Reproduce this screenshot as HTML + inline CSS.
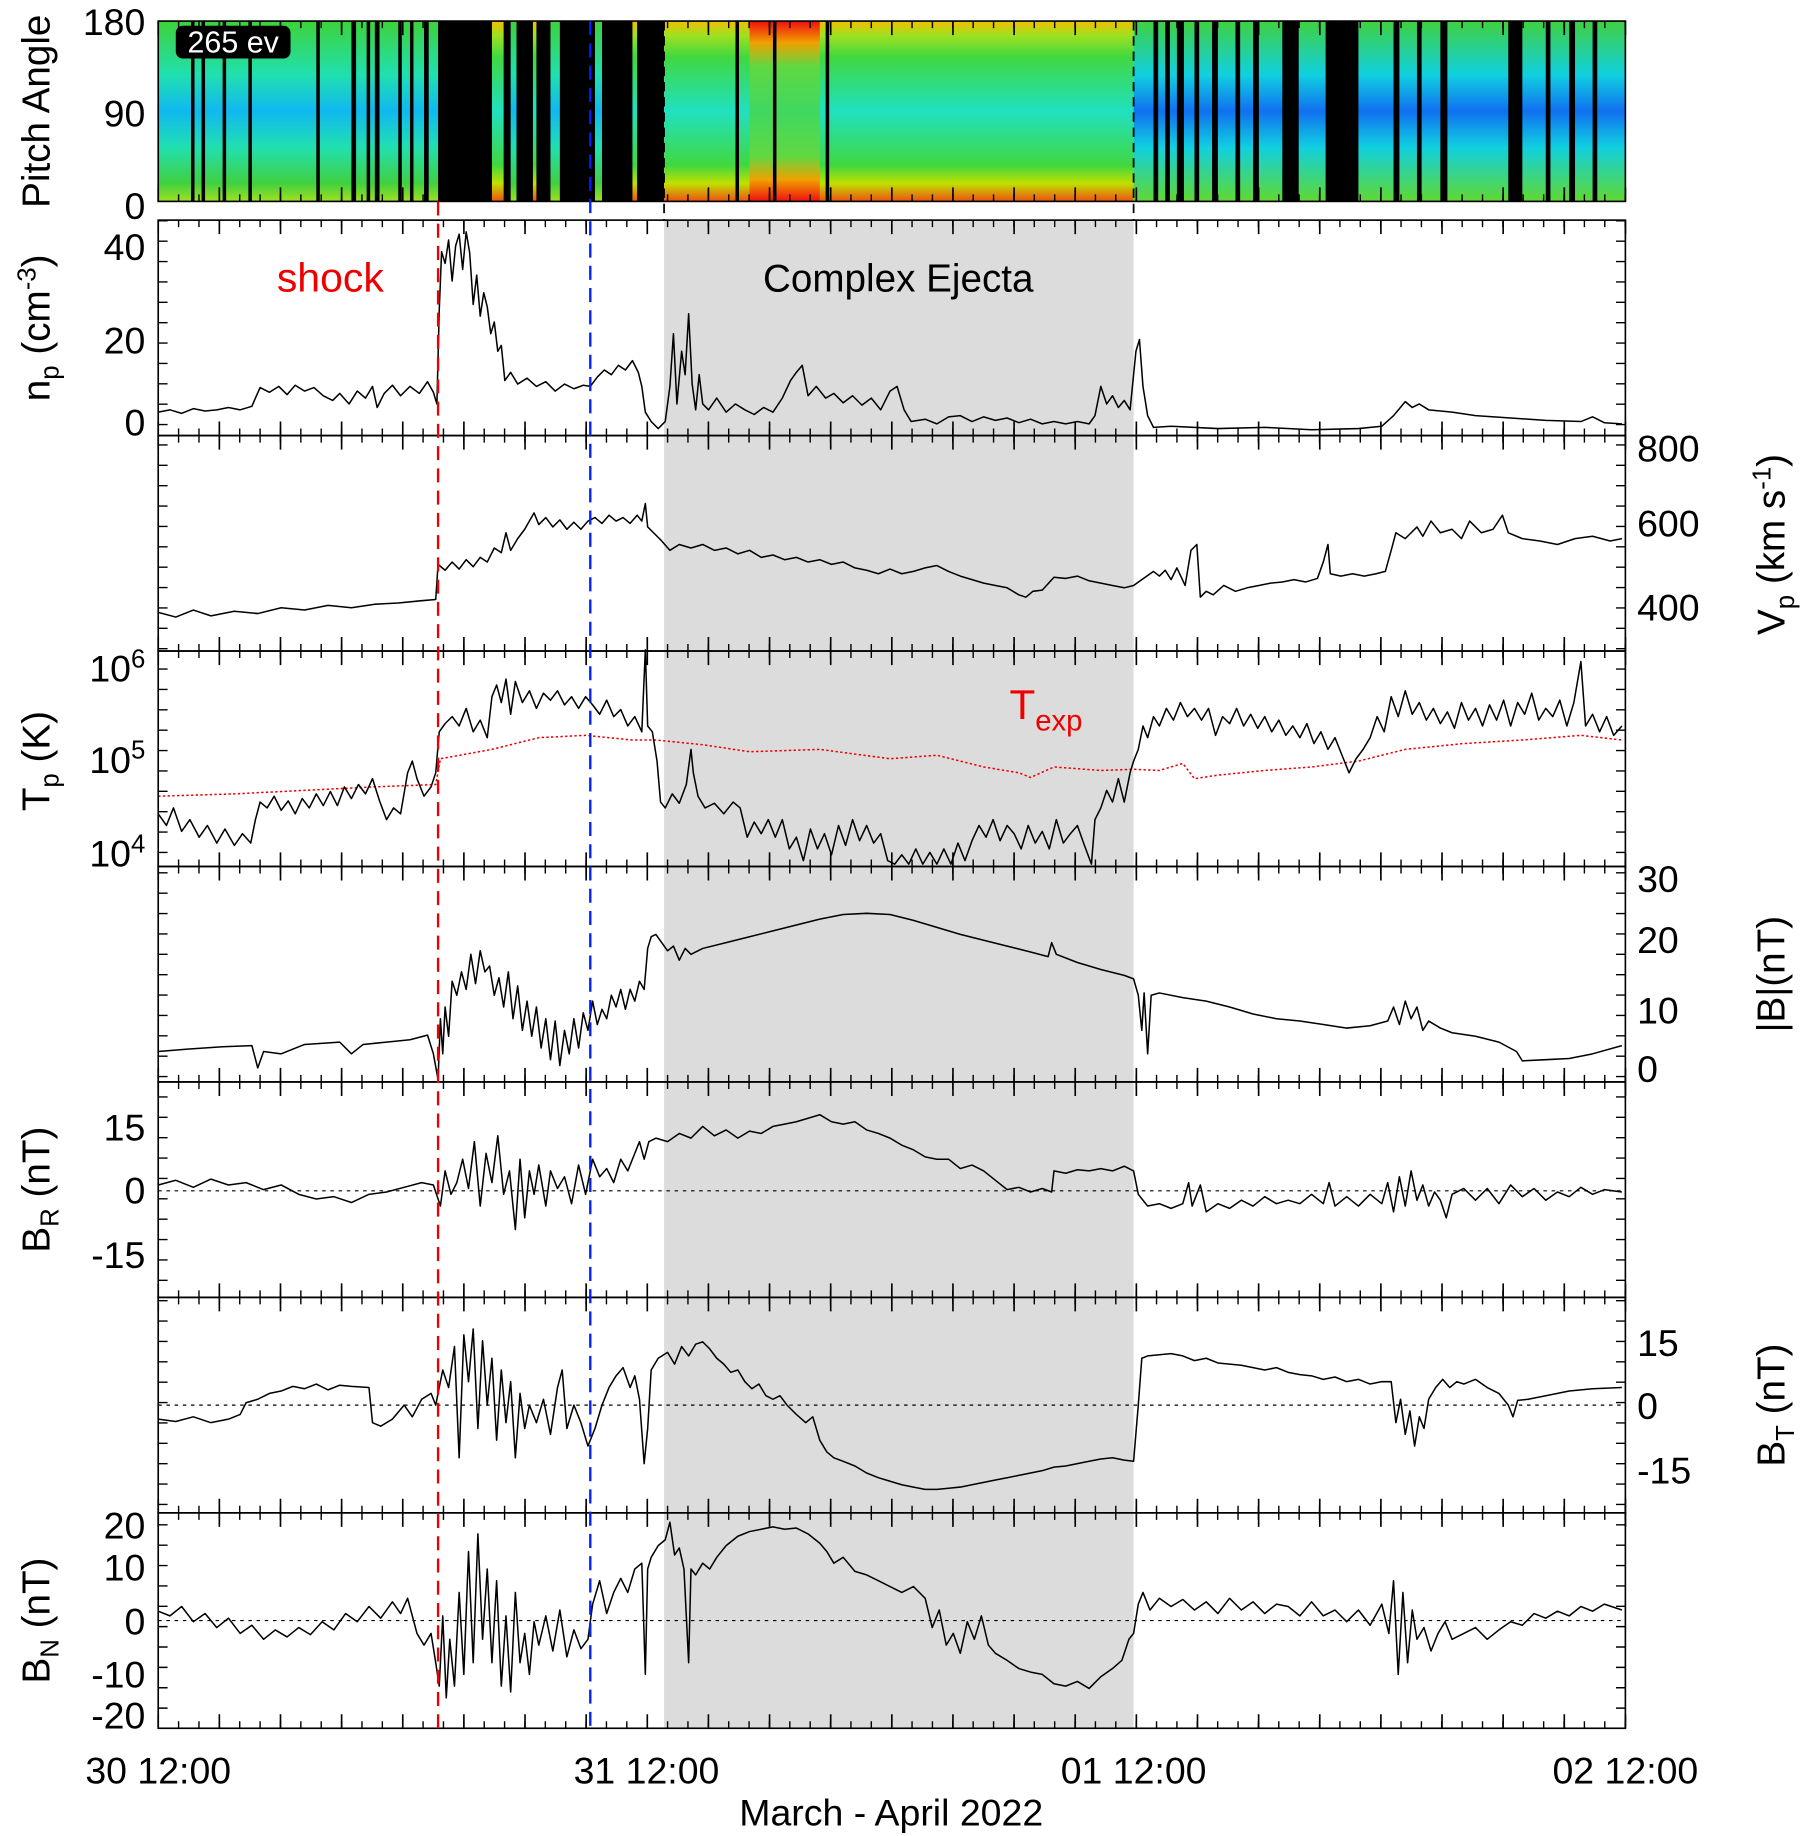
<!DOCTYPE html>
<html><head><meta charset="utf-8"><style>
html,body{margin:0;padding:0;background:#fff}
svg{display:block}
text{font-family:"Liberation Sans",sans-serif;fill:#000}
</style></head><body>
<svg width="1800" height="1836" viewBox="0 0 1537 1568" xmlns="http://www.w3.org/2000/svg">
<defs>
<linearGradient id="gA" x1="0" y1="0" x2="0" y2="1">
<stop offset="0" stop-color="#3ed23a"/><stop offset="0.3" stop-color="#20e0b0"/><stop offset="0.5" stop-color="#10b8f0"/><stop offset="0.7" stop-color="#20e0b0"/><stop offset="0.9" stop-color="#40d040"/><stop offset="1" stop-color="#a0e020"/></linearGradient>
<linearGradient id="gB" x1="0" y1="0" x2="0" y2="1">
<stop offset="0" stop-color="#f0c000"/><stop offset="0.08" stop-color="#a0e020"/><stop offset="0.2" stop-color="#40d840"/><stop offset="0.5" stop-color="#20e0c0"/><stop offset="0.8" stop-color="#40d840"/><stop offset="0.9" stop-color="#c0e000"/><stop offset="1" stop-color="#f05010"/></linearGradient>
<linearGradient id="gR" x1="0" y1="0" x2="0" y2="1">
<stop offset="0" stop-color="#f01010"/><stop offset="0.12" stop-color="#f0a000"/><stop offset="0.25" stop-color="#60d840"/><stop offset="0.5" stop-color="#40d860"/><stop offset="0.75" stop-color="#60d840"/><stop offset="0.88" stop-color="#f0a000"/><stop offset="1" stop-color="#f01010"/></linearGradient>
<linearGradient id="gC" x1="0" y1="0" x2="0" y2="1">
<stop offset="0" stop-color="#40d040"/><stop offset="0.3" stop-color="#10d0e0"/><stop offset="0.5" stop-color="#1070f0"/><stop offset="0.7" stop-color="#10d0e0"/><stop offset="1" stop-color="#60d830"/></linearGradient>
</defs>
<rect width="1537" height="1568" fill="#fff"/>
<rect x="567" y="188" width="401" height="1288" fill="#dcdcdc"/>
<!-- heatmap -->
<rect x="135" y="18" width="239" height="154" fill="url(#gA)"/>
<rect x="374" y="18" width="193" height="154" fill="#000"/>
<rect x="567" y="18" width="401" height="154" fill="url(#gB)"/>
<rect x="640" y="18" width="60" height="154" fill="url(#gR)"/>
<rect x="968" y="18" width="420" height="154" fill="url(#gC)"/>
<rect x="420" y="18" width="10" height="154" fill="url(#gB)"/>
<rect x="436" y="18" width="5" height="154" fill="url(#gA)"/>
<rect x="455" y="18" width="3" height="154" fill="url(#gB)"/>
<rect x="470" y="18" width="8" height="154" fill="url(#gA)"/>
<rect x="508" y="18" width="6" height="154" fill="url(#gA)"/>
<rect x="540" y="18" width="4" height="154" fill="url(#gB)"/>
<g fill="#000">
<rect x="163" y="18" width="3" height="154"/><rect x="172" y="18" width="3" height="154"/><rect x="190" y="18" width="3" height="154"/><rect x="212" y="18" width="3" height="154"/><rect x="270" y="18" width="3" height="154"/><rect x="300" y="18" width="4" height="154"/><rect x="313" y="18" width="3" height="154"/><rect x="320" y="18" width="4" height="154"/><rect x="340" y="18" width="3" height="154"/><rect x="350" y="18" width="3" height="154"/><rect x="362" y="18" width="4" height="154"/>
<rect x="628" y="18" width="3" height="154"/><rect x="660" y="18" width="3" height="154"/><rect x="705" y="18" width="3" height="154"/>
<rect x="985" y="18" width="4" height="154"/><rect x="995" y="18" width="4" height="154"/><rect x="1005" y="18" width="6" height="154"/><rect x="1020" y="18" width="4" height="154"/><rect x="1035" y="18" width="5" height="154"/><rect x="1055" y="18" width="4" height="154"/><rect x="1070" y="18" width="5" height="154"/><rect x="1095" y="18" width="14" height="154"/><rect x="1132" y="18" width="28" height="154"/><rect x="1190" y="18" width="5" height="154"/><rect x="1210" y="18" width="4" height="154"/><rect x="1230" y="18" width="6" height="154"/><rect x="1288" y="18" width="12" height="154"/><rect x="1320" y="18" width="4" height="154"/><rect x="1340" y="18" width="5" height="154"/><rect x="1360" y="18" width="4" height="154"/>
</g>
<!-- series -->
<g fill="none" stroke="#000" stroke-width="1.3" stroke-linejoin="round">
<polyline points="135,352 145,350 155,353 165,349 175,351 185,350 195,348 205,350 215,347 218,340 222,331 230,335 238,330 245,337 252,329 260,334 268,331 276,338 284,342 290,336 298,345 305,334 312,340 318,330 322,348 328,336 335,329 342,338 350,330 358,336 365,326 370,335 373,345 375,265 377,215 380,225 383,205 386,240 389,210 392,200 395,230 398,198 401,216 404,260 407,235 410,270 413,250 416,262 419,285 422,275 425,300 428,295 431,325 436,318 442,328 450,323 458,330 466,326 474,334 482,328 490,332 498,329 504,330 510,322 516,316 522,320 528,312 534,316 540,308 545,318 548,330 551,352 556,360 562,366 568,360 572,330 575,285 578,345 582,300 585,320 588,268 591,328 594,350 597,320 600,345 605,350 612,340 620,352 628,345 636,350 644,354 652,348 660,352 668,340 675,325 680,318 685,312 690,338 697,330 705,340 712,336 720,344 728,338 736,346 744,340 752,350 760,334 766,330 772,350 778,360 790,358 800,362 810,356 820,355 830,360 840,356 850,359 860,357 870,361 880,358 890,362 900,360 910,362 920,360 930,362 935,355 940,330 945,345 950,338 955,348 960,342 965,350 970,300 973,290 976,330 980,355 985,365 1000,364 1040,366 1080,365 1120,367 1160,366 1180,364 1190,355 1200,343 1206,348 1212,345 1220,350 1240,352 1260,355 1290,357 1320,359 1350,360 1360,356 1370,361 1385,362"/>
<polyline points="135,523 150,527 165,521 180,526 200,522 220,524 240,519 260,521 280,517 300,519 320,516 340,515 360,513 372,512 374,482 380,487 386,480 392,486 398,478 404,484 410,476 416,480 422,468 428,472 432,455 436,470 442,460 448,452 452,445 456,438 460,448 466,442 472,450 478,444 484,452 490,446 496,452 502,445 508,442 514,447 520,440 526,445 532,442 538,447 544,440 548,445 551,430 553,450 558,455 565,462 572,470 580,465 590,468 600,465 610,470 620,468 630,473 640,470 650,476 660,474 670,478 680,476 690,480 700,478 710,482 720,480 730,485 740,487 750,490 760,486 770,490 780,488 790,485 800,483 810,488 820,492 830,495 840,498 850,500 860,502 870,508 876,510 882,505 890,504 900,493 910,494 920,492 930,496 940,498 950,500 960,502 968,500 975,495 985,488 990,492 995,487 1000,495 1005,485 1012,500 1017,470 1022,465 1025,510 1030,505 1036,508 1045,500 1055,505 1065,502 1075,500 1085,498 1095,497 1105,495 1115,497 1125,494 1130,480 1134,465 1136,490 1145,492 1155,490 1165,492 1175,490 1183,488 1188,470 1192,455 1200,460 1210,450 1215,458 1222,445 1230,455 1240,452 1248,460 1255,445 1265,455 1275,452 1283,440 1288,455 1300,460 1315,462 1330,465 1345,460 1360,458 1375,462 1385,460"/>
<polyline stroke="#e00" stroke-dasharray="2,2" points="135,680 200,678 260,675 320,672 372,670 376,648 420,640 460,630 500,628 540,632 560,632 600,636 640,642 700,640 760,648 800,645 840,655 870,660 880,664 900,655 940,658 968,657 990,658 1010,652 1020,665 1040,662 1080,658 1120,655 1160,650 1200,640 1250,635 1300,632 1350,628 1385,632"/>
<polyline points="135,695 142,705 148,690 155,710 162,700 170,715 177,705 185,720 192,708 200,722 207,712 214,720 218,700 222,685 228,690 234,680 240,692 246,684 252,695 258,682 264,690 270,678 276,688 282,676 288,688 294,672 300,682 306,670 312,678 318,665 324,684 330,700 336,690 342,695 348,660 352,650 356,665 362,680 368,672 372,660 375,625 380,618 386,612 392,620 398,605 404,625 410,615 416,630 420,595 424,585 428,600 432,580 436,610 440,582 446,600 452,590 458,605 464,592 470,598 476,590 482,602 488,595 494,605 500,595 506,602 512,610 518,598 524,612 530,606 536,620 542,612 548,625 551,555 553,620 557,625 561,650 564,685 568,690 574,678 580,686 586,670 590,640 592,660 596,680 602,690 610,686 618,695 626,685 632,690 638,715 644,702 650,712 656,700 662,715 668,700 674,725 680,715 686,735 692,708 698,725 704,712 710,730 716,705 722,722 728,700 734,718 740,705 746,720 752,712 758,735 764,738 770,730 776,738 782,725 788,738 794,728 800,738 806,725 812,738 818,720 824,735 830,718 836,705 842,715 848,700 854,718 860,705 866,712 872,725 878,705 884,720 890,710 896,725 902,700 908,720 914,712 920,705 926,722 932,738 935,700 940,690 945,675 950,685 955,665 960,685 965,660 968,650 972,640 976,620 980,630 985,612 990,620 996,605 1002,615 1008,600 1014,612 1020,605 1026,615 1032,605 1038,628 1044,612 1050,618 1056,605 1062,620 1068,610 1074,622 1080,612 1086,625 1092,615 1098,628 1104,620 1110,630 1116,618 1122,635 1128,625 1134,640 1140,630 1146,645 1152,660 1158,648 1164,640 1170,630 1176,612 1182,625 1188,595 1194,612 1200,590 1206,610 1212,600 1218,615 1224,605 1230,618 1236,608 1242,622 1248,600 1254,615 1260,605 1266,620 1272,602 1278,615 1284,598 1290,620 1296,600 1302,610 1308,592 1314,615 1320,605 1326,612 1332,598 1338,620 1344,600 1350,565 1354,620 1360,610 1366,625 1372,612 1378,628 1385,620"/>
<polyline points="135,898 160,896 190,894 215,893 220,912 225,898 240,900 260,892 290,890 300,900 310,892 330,890 350,888 365,884 370,900 374,922 376,870 378,900 380,860 383,885 386,838 390,850 394,830 398,845 402,815 406,840 410,812 414,830 418,825 422,850 426,835 430,860 434,830 438,870 442,842 446,880 450,855 454,885 458,860 462,895 466,870 470,905 474,872 478,910 482,880 486,900 490,870 494,895 498,865 502,880 506,855 510,875 514,862 518,870 522,850 526,860 530,845 534,862 538,845 542,855 546,838 550,845 553,810 556,800 560,798 565,805 570,812 575,808 580,820 585,810 590,815 600,810 620,805 640,800 660,795 680,790 700,785 720,781 740,780 760,781 780,786 800,792 820,798 840,803 860,808 880,813 895,817 898,805 902,815 920,822 940,828 960,833 968,836 972,850 975,880 977,848 980,900 983,850 990,848 1010,852 1030,855 1050,860 1070,866 1090,870 1110,872 1130,875 1150,878 1170,876 1185,872 1190,860 1195,875 1200,855 1205,870 1210,860 1215,880 1220,872 1230,878 1240,882 1260,885 1280,890 1295,898 1300,906 1320,905 1340,904 1360,900 1385,893"/>
<polyline points="135,1012 150,1008 165,1014 180,1007 195,1012 210,1010 225,1016 240,1012 255,1020 270,1024 285,1022 300,1027 315,1020 330,1018 345,1014 360,1010 370,1012 376,1030 380,1000 385,1020 390,1010 395,990 400,1015 405,975 410,1030 415,985 420,1010 425,970 430,1020 435,1000 440,1050 444,990 448,1040 452,1000 456,1020 460,995 466,1030 470,1000 476,1015 482,1005 488,1028 494,995 500,1020 506,990 512,1005 518,998 524,1010 530,990 536,1000 542,985 546,975 550,990 554,975 560,972 570,975 580,968 590,972 600,962 610,970 620,965 630,972 640,966 650,968 660,962 670,960 680,958 690,955 700,952 710,958 720,960 730,958 740,965 750,968 760,972 770,978 780,982 790,988 800,990 810,990 820,998 830,995 840,1000 850,1008 860,1016 870,1014 880,1018 890,1015 898,1018 900,1000 910,1002 920,999 930,1000 940,998 950,1000 960,996 968,1000 972,1020 980,1030 990,1028 1000,1032 1010,1028 1015,1010 1018,1030 1025,1012 1030,1035 1040,1028 1050,1032 1060,1025 1070,1030 1080,1022 1090,1028 1100,1025 1110,1028 1120,1020 1130,1028 1135,1010 1140,1030 1150,1022 1160,1030 1170,1020 1180,1028 1185,1010 1190,1035 1195,1005 1200,1030 1205,1000 1210,1025 1215,1012 1220,1030 1225,1018 1230,1025 1235,1040 1240,1020 1250,1015 1260,1025 1270,1015 1280,1028 1290,1012 1300,1022 1310,1015 1320,1025 1330,1018 1340,1022 1350,1014 1360,1020 1370,1016 1385,1018"/>
<polyline points="135,1212 150,1214 165,1210 180,1215 195,1212 205,1208 210,1198 220,1195 230,1190 240,1188 250,1184 260,1186 270,1182 280,1187 290,1183 300,1184 315,1185 318,1215 325,1218 335,1212 345,1200 352,1210 360,1195 368,1190 372,1200 378,1170 383,1185 388,1150 392,1245 396,1140 400,1180 404,1135 408,1220 412,1145 416,1200 420,1160 424,1230 428,1170 432,1215 436,1180 440,1245 444,1190 448,1220 452,1200 458,1215 464,1195 470,1225 476,1185 480,1170 484,1220 490,1200 496,1215 502,1235 508,1220 514,1200 520,1185 526,1175 532,1168 538,1185 542,1175 546,1195 550,1250 553,1220 556,1170 562,1160 570,1155 576,1165 582,1150 588,1158 594,1148 600,1146 606,1152 612,1160 618,1165 624,1172 630,1170 636,1180 642,1186 648,1182 654,1192 660,1195 666,1192 672,1200 680,1208 688,1215 694,1210 700,1230 706,1240 712,1245 720,1248 730,1252 740,1258 750,1262 760,1265 770,1268 780,1270 790,1272 800,1272 810,1271 820,1270 830,1268 840,1266 850,1264 860,1262 870,1260 880,1258 890,1256 900,1253 910,1252 920,1250 930,1248 940,1246 950,1245 960,1247 968,1248 972,1200 975,1160 980,1158 990,1157 1000,1156 1010,1158 1020,1162 1030,1160 1040,1164 1050,1165 1060,1166 1070,1168 1080,1170 1090,1168 1100,1172 1110,1174 1120,1175 1130,1178 1140,1176 1150,1180 1160,1178 1170,1182 1180,1180 1188,1180 1192,1215 1196,1195 1200,1225 1204,1205 1208,1235 1212,1210 1216,1220 1220,1195 1226,1185 1232,1178 1238,1185 1244,1180 1250,1182 1260,1178 1270,1185 1280,1190 1288,1200 1292,1210 1296,1196 1305,1195 1320,1192 1340,1188 1360,1186 1385,1185"/>
<polyline points="135,1376 145,1380 155,1372 165,1385 175,1378 185,1390 195,1382 205,1395 215,1388 225,1400 235,1392 245,1398 255,1390 265,1396 275,1385 285,1392 295,1378 305,1385 315,1372 325,1382 335,1368 342,1378 348,1365 352,1380 356,1395 362,1405 368,1395 372,1420 375,1440 378,1380 381,1450 384,1400 388,1440 392,1360 396,1430 400,1325 404,1420 408,1310 412,1400 416,1340 420,1420 424,1350 428,1440 432,1380 436,1445 440,1360 444,1420 448,1395 452,1430 456,1385 460,1405 466,1380 472,1410 478,1375 484,1415 490,1392 496,1408 502,1400 506,1370 512,1350 518,1378 524,1360 530,1348 536,1360 542,1340 548,1335 551,1430 553,1340 556,1330 562,1320 568,1315 572,1300 576,1328 580,1322 584,1340 588,1420 590,1340 594,1345 600,1335 606,1340 612,1330 620,1320 630,1312 640,1308 650,1306 660,1304 670,1306 680,1305 690,1310 700,1318 706,1325 712,1335 720,1330 730,1342 740,1345 750,1350 760,1355 770,1360 780,1355 790,1365 796,1390 802,1375 808,1405 814,1395 820,1412 826,1385 832,1400 838,1380 844,1405 850,1412 860,1418 870,1425 880,1428 890,1430 900,1438 910,1440 920,1436 930,1442 940,1432 950,1425 958,1418 964,1400 968,1395 972,1370 976,1360 982,1375 990,1365 1000,1372 1010,1366 1020,1375 1030,1368 1040,1378 1050,1365 1060,1375 1070,1368 1080,1378 1090,1370 1100,1372 1110,1380 1120,1368 1130,1380 1140,1375 1150,1385 1160,1375 1170,1388 1180,1370 1186,1395 1190,1350 1194,1430 1198,1360 1202,1420 1206,1375 1210,1400 1216,1390 1222,1410 1228,1395 1234,1385 1240,1400 1250,1395 1260,1390 1270,1400 1280,1392 1290,1385 1300,1388 1310,1378 1320,1382 1330,1376 1340,1380 1350,1372 1360,1376 1370,1370 1385,1375"/>
</g>
<!-- ticks via dash patterns -->
<g stroke="#000" fill="none">
<g stroke-width="12" stroke-dasharray="1.4 50.81">
<line x1="134.3" y1="24" x2="1390" y2="24"/><line x1="134.3" y1="166" x2="1390" y2="166"/>
<line x1="134.3" y1="194" x2="1390" y2="194"/><line x1="134.3" y1="366" x2="1390" y2="366"/>
<line x1="134.3" y1="378" x2="1390" y2="378"/><line x1="134.3" y1="550" x2="1390" y2="550"/>
<line x1="134.3" y1="562" x2="1390" y2="562"/><line x1="134.3" y1="734" x2="1390" y2="734"/>
<line x1="134.3" y1="746" x2="1390" y2="746"/><line x1="134.3" y1="918" x2="1390" y2="918"/>
<line x1="134.3" y1="930" x2="1390" y2="930"/><line x1="134.3" y1="1102" x2="1390" y2="1102"/>
<line x1="134.3" y1="1114" x2="1390" y2="1114"/><line x1="134.3" y1="1286" x2="1390" y2="1286"/>
<line x1="134.3" y1="1298" x2="1390" y2="1298"/><line x1="134.3" y1="1470" x2="1390" y2="1470"/>
</g>
<g stroke-width="6" stroke-dasharray="1.2 16.2">
<line x1="134.4" y1="21" x2="1390" y2="21"/><line x1="134.4" y1="169" x2="1390" y2="169"/>
<line x1="134.4" y1="191" x2="1390" y2="191"/><line x1="134.4" y1="369" x2="1390" y2="369"/>
<line x1="134.4" y1="375" x2="1390" y2="375"/><line x1="134.4" y1="553" x2="1390" y2="553"/>
<line x1="134.4" y1="559" x2="1390" y2="559"/><line x1="134.4" y1="737" x2="1390" y2="737"/>
<line x1="134.4" y1="743" x2="1390" y2="743"/><line x1="134.4" y1="921" x2="1390" y2="921"/>
<line x1="134.4" y1="927" x2="1390" y2="927"/><line x1="134.4" y1="1105" x2="1390" y2="1105"/>
<line x1="134.4" y1="1111" x2="1390" y2="1111"/><line x1="134.4" y1="1289" x2="1390" y2="1289"/>
<line x1="134.4" y1="1295" x2="1390" y2="1295"/><line x1="134.4" y1="1473" x2="1390" y2="1473"/>
</g>
<g stroke-width="8" stroke-dasharray="1.2 16.2">
<line x1="139" y1="188" x2="139" y2="1476"/><line x1="1384" y1="188" x2="1384" y2="1476"/>
</g>
</g>
<g fill="none" stroke="#000" stroke-width="1.4">
<rect x="135" y="18" width="1253" height="154"/>
<rect x="135" y="188" width="1253" height="184"/>
<rect x="135" y="372" width="1253" height="184"/>
<rect x="135" y="556" width="1253" height="184"/>
<rect x="135" y="740" width="1253" height="184"/>
<rect x="135" y="924" width="1253" height="184"/>
<rect x="135" y="1108" width="1253" height="184"/>
<rect x="135" y="1292" width="1253" height="184"/>
</g>
<g stroke-dasharray="3,4" stroke="#000" stroke-width="1">
<line x1="135" y1="1017" x2="1388" y2="1017"/>
<line x1="135" y1="1200" x2="1388" y2="1200"/>
<line x1="135" y1="1384" x2="1388" y2="1384"/>
</g>
<line x1="374" y1="172" x2="374" y2="1476" stroke="#e00" stroke-width="2" stroke-dasharray="12,7"/>
<line x1="504" y1="18" x2="504" y2="1476" stroke="#0020ff" stroke-width="2" stroke-dasharray="12,7"/>
<line x1="567" y1="18" x2="567" y2="188" stroke="#000" stroke-width="1.5" stroke-dasharray="8,5"/>
<line x1="968" y1="18" x2="968" y2="188" stroke="#000" stroke-width="1.5" stroke-dasharray="8,5"/>
<g font-size="32">
<text x="124" y="30" text-anchor="end">180</text>
<text x="124" y="108" text-anchor="end">90</text>
<text x="124" y="187" text-anchor="end">0</text>
<text x="124" y="222" text-anchor="end">40</text>
<text x="124" y="302" text-anchor="end">20</text>
<text x="124" y="372" text-anchor="end">0</text>
<text x="1398" y="394">800</text>
<text x="1398" y="458">600</text>
<text x="1398" y="530">400</text>
<text x="124" y="582" text-anchor="end">10<tspan font-size="22" dy="-12">6</tspan></text>
<text x="124" y="660" text-anchor="end">10<tspan font-size="22" dy="-12">5</tspan></text>
<text x="124" y="740" text-anchor="end">10<tspan font-size="22" dy="-12">4</tspan></text>
<text x="1398" y="762">30</text>
<text x="1398" y="814">20</text>
<text x="1398" y="874">10</text>
<text x="1398" y="924">0</text>
<text x="124" y="974" text-anchor="end">15</text>
<text x="124" y="1028" text-anchor="end">0</text>
<text x="124" y="1083" text-anchor="end">-15</text>
<text x="1398" y="1158">15</text>
<text x="1398" y="1212">0</text>
<text x="1398" y="1267">-15</text>
<text x="124" y="1314" text-anchor="end">20</text>
<text x="124" y="1350" text-anchor="end">10</text>
<text x="124" y="1396" text-anchor="end">0</text>
<text x="124" y="1441" text-anchor="end">-10</text>
<text x="124" y="1476" text-anchor="end">-20</text>
<text x="135" y="1523" text-anchor="middle">30 12:00</text>
<text x="552" y="1523" text-anchor="middle">31 12:00</text>
<text x="968" y="1523" text-anchor="middle">01 12:00</text>
<text x="1388" y="1523" text-anchor="middle">02 12:00</text>
<text x="761" y="1559" text-anchor="middle">March - April 2022</text>
<text x="767" y="249" text-anchor="middle" font-size="33">Complex Ejecta</text>
<text x="282" y="249" text-anchor="middle" style="fill:#e00" font-size="35">shock</text>
<text x="862" y="614" style="fill:#e00" font-size="36">T<tspan font-size="25" dy="10">exp</tspan></text>
</g>
<rect x="150" y="22" width="98" height="28" rx="6" fill="#000"/>
<text x="199" y="45" text-anchor="middle" font-size="26" style="fill:#fff">265 ev</text>
<g font-size="33">
<text transform="translate(42,95) rotate(-90)" text-anchor="middle">Pitch Angle</text>
<text transform="translate(42,280) rotate(-90)" text-anchor="middle">n<tspan font-size="22" dy="8">p</tspan><tspan dy="-8"> (cm</tspan><tspan font-size="22" dy="-12">-3</tspan><tspan dy="12">)</tspan></text>
<text transform="translate(1524,465) rotate(-90)" text-anchor="middle">V<tspan font-size="22" dy="8">p</tspan><tspan dy="-8"> (km s</tspan><tspan font-size="22" dy="-12">-1</tspan><tspan dy="12">)</tspan></text>
<text transform="translate(42,650) rotate(-90)" text-anchor="middle">T<tspan font-size="22" dy="8">p</tspan><tspan dy="-8"> (K)</tspan></text>
<text transform="translate(1524,832) rotate(-90)" text-anchor="middle">|B|(nT)</text>
<text transform="translate(42,1016) rotate(-90)" text-anchor="middle">B<tspan font-size="22" dy="8">R</tspan><tspan dy="-8"> (nT)</tspan></text>
<text transform="translate(1524,1200) rotate(-90)" text-anchor="middle">B<tspan font-size="22" dy="8">T</tspan><tspan dy="-8"> (nT)</tspan></text>
<text transform="translate(42,1384) rotate(-90)" text-anchor="middle">B<tspan font-size="22" dy="8">N</tspan><tspan dy="-8"> (nT)</tspan></text>
</g>
</svg>
</body></html>
